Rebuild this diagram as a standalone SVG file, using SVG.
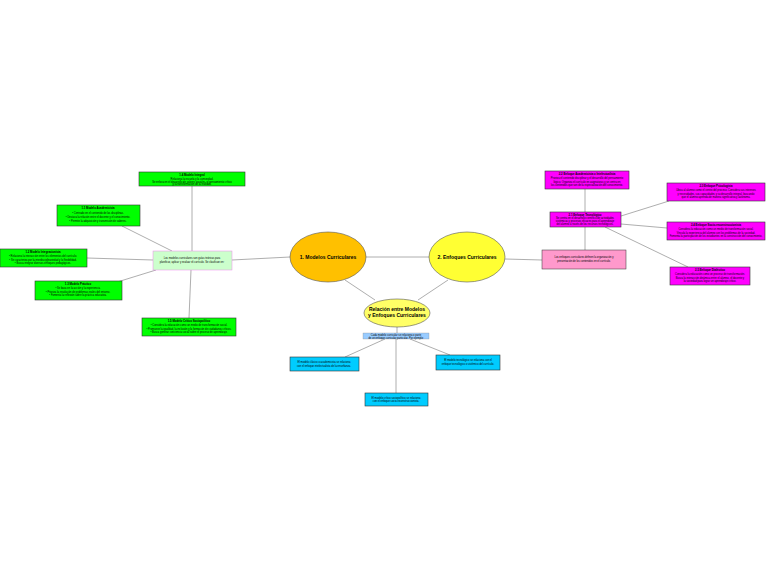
<svg xmlns="http://www.w3.org/2000/svg" width="768" height="577" viewBox="0 0 768 577">
<style>
text{font-family:"Liberation Sans",Arial,sans-serif;text-anchor:middle;fill:#000}
.t{font-size:2.6px}.h{font-size:2.8px;font-weight:bold}.m{font-size:5px;font-weight:bold}
.g{fill:#00ff00;stroke:#333;stroke-width:0.6}
.p{fill:#ff00ff;stroke:#333;stroke-width:0.6}
.c{fill:#00ccff;stroke:#333;stroke-width:0.6}
#conn line{stroke:#999;stroke-width:0.8}
</style>
<rect width="768" height="577" fill="#fff"/>
<g id="conn">
<line x1="290" y1="257" x2="232" y2="260"/>
<line x1="366" y1="257" x2="429" y2="257"/>
<line x1="505" y1="259" x2="542" y2="260"/>
<line x1="192" y1="186" x2="192" y2="251"/>
<line x1="122" y1="226" x2="172" y2="251"/>
<line x1="87" y1="258" x2="153" y2="260"/>
<line x1="114" y1="283" x2="156" y2="270"/>
<line x1="189" y1="318" x2="191" y2="270"/>
<line x1="585" y1="189" x2="585" y2="212"/>
<line x1="585" y1="227" x2="585" y2="250"/>
<line x1="621" y1="216" x2="669" y2="201"/>
<line x1="621" y1="224" x2="667" y2="228"/>
<line x1="605" y1="227" x2="688" y2="267"/>
<line x1="345" y1="280" x2="375" y2="300"/>
<line x1="448" y1="280" x2="418" y2="300"/>
<line x1="397" y1="327" x2="397" y2="333"/>
<line x1="385" y1="339" x2="345" y2="357"/>
<line x1="410" y1="339" x2="450" y2="355"/>
<line x1="396" y1="339" x2="396" y2="393"/>
</g>
<g id="modelos"><ellipse cx="328" cy="257" rx="38" ry="25" fill="#ffc000" stroke="#555" stroke-width="0.6"/><text class="m" x="328" y="259">1. Modelos Curriculares</text></g>
<g id="enfoques"><ellipse cx="467" cy="257" rx="38" ry="25" fill="#ffff33" stroke="#555" stroke-width="0.6"/><text class="m" x="467" y="259">2. Enfoques Curriculares</text></g>
<g id="relacion"><ellipse cx="397" cy="313" rx="33" ry="14" fill="#ffff66" stroke="#555" stroke-width="0.6"/><text class="m" x="397" y="311">Relación entre Modelos</text><text class="m" x="397" y="317">y Enfoques Curriculares</text></g>
<g id="defmod"><rect x="153" y="251" width="79" height="19" fill="#ccffcc" stroke="#ee88ee" stroke-width="0.5"/><text class="t" x="192" y="259">Los modelos curriculares son guías teóricas para</text><text class="t" x="192" y="263">planificar, aplicar y evaluar el currículo. Se clasifican en:</text></g>
<g id="m1"><rect class="g" x="139" y="172" width="106" height="14"/><text class="h" x="192" y="176">1.4 Modelo Integral</text><text class="t" x="192" y="179.5">Relaciona la escuela y la comunidad.</text><text class="t" x="192" y="182.5">Se enfoca en el desarrollo de valores sociales, el pensamiento crítico</text><text class="t" x="192" y="185">y la transformación de la realidad.</text></g>
<g id="m2"><rect class="g" x="57" y="205" width="83" height="21"/><text class="h" x="98" y="209">1.1 Modelo Academicista</text><text class="t" x="98" y="214">• Centrado en el contenido de las disciplinas.</text><text class="t" x="98" y="218">• Destaca la relación entre el docente y el conocimiento.</text><text class="t" x="98" y="222">• Permite la adquisición y transmisión de saberes.</text></g>
<g id="m3"><rect class="g" x="0" y="249" width="87" height="18"/><text class="h" x="43" y="253">1.2 Modelo Integracionista</text><text class="t" x="43" y="257">• Relaciona la interacción entre los elementos del currículo.</text><text class="t" x="43" y="260.5">• Se caracteriza por la interdisciplinariedad y la flexibilidad.</text><text class="t" x="43" y="264">• Busca integrar diversos enfoques pedagógicos.</text></g>
<g id="m4"><rect class="g" x="35" y="281" width="87" height="19"/><text class="h" x="78" y="285">1.3 Modelo Práctico</text><text class="t" x="78" y="289">• Se basa en la acción y la experiencia.</text><text class="t" x="78" y="292.5">• Prioriza la resolución de problemas reales del entorno.</text><text class="t" x="78" y="296">• Fomenta la reflexión sobre la práctica educativa.</text></g>
<g id="m5"><rect class="g" x="142" y="318" width="94" height="18"/><text class="h" x="189" y="322">1.5 Modelo Crítico Sociopolítico</text><text class="t" x="189" y="326">• Considera la educación como un medio de transformación social.</text><text class="t" x="189" y="329.5">• Promueve la igualdad, la inclusión y la formación de ciudadanos críticos.</text><text class="t" x="189" y="333">• Busca generar conciencia social sobre el proceso de aprendizaje.</text></g>
<g id="defenf"><rect x="542" y="250" width="84" height="19" fill="#ff99cc" stroke="#333" stroke-width="0.5"/><text class="t" x="584" y="258">Los enfoques curriculares definen la organización y</text><text class="t" x="584" y="262">presentación de los contenidos en el currículo.</text></g>
<g id="e1"><rect class="p" x="550" y="212" width="71" height="15"/><text class="h" x="585" y="215.5">2.1 Enfoque Tecnológico</text><text class="t" x="585" y="219">Se centra en el desarrollo científico de actividades</text><text class="t" x="585" y="222">sistémicas y procesos eficaces para el aprendizaje</text><text class="t" x="585" y="225">del alumno a través de los recursos tecnológicos.</text></g>
<g id="e2"><rect class="p" x="545" y="171" width="84" height="18"/><text class="h" x="587" y="175">2.2 Enfoque Academicista o Intelectualista</text><text class="t" x="587" y="179">Prioriza el contenido disciplinar y el desarrollo del pensamiento</text><text class="t" x="587" y="182.5">lógico. Organiza el currículo en asignaturas y se centra en</text><text class="t" x="587" y="186">los contenidos que son de la especialización del conocimiento.</text></g>
<g id="e3"><rect class="p" x="667" y="183" width="98" height="18"/><text class="h" x="716" y="187">2.3 Enfoque Psicologista</text><text class="t" x="716" y="191">Ubica al alumno como el centro del proceso. Considera sus intereses</text><text class="t" x="716" y="194.5">y necesidades, sus capacidades y su desarrollo integral, buscando</text><text class="t" x="716" y="198">que el alumno aprenda de manera significativa y autónoma.</text></g>
<g id="e4"><rect class="p" x="667" y="222" width="98" height="18"/><text class="h" x="716" y="226">2.4 Enfoque Socio-reconstruccionista</text><text class="t" x="716" y="230">Considera la educación como un medio de transformación social.</text><text class="t" x="716" y="233.5">Vincula la experiencia del alumno con los problemas de la sociedad.</text><text class="t" x="716" y="237">Fomenta la participación de los estudiantes en la construcción del conocimiento.</text></g>
<g id="e5"><rect class="p" x="670" y="267" width="80" height="18"/><text class="h" x="710" y="271">2.5 Enfoque Dialéctico</text><text class="t" x="710" y="275">Considera la educación como un proceso de transformación.</text><text class="t" x="710" y="278.5">Busca la interacción dinámica entre el alumno, el docente y</text><text class="t" x="710" y="282">la sociedad para lograr un aprendizaje crítico.</text></g>
<g id="strip"><rect x="363" y="333" width="66" height="6" fill="#99ccff" stroke="#888" stroke-width="0.3"/><text class="t" x="396" y="335.8">Cada modelo curricular se relaciona o parte</text><text class="t" x="396" y="338.5">de un enfoque curricular particular. Por ejemplo:</text></g>
<g id="c1"><rect class="c" x="290" y="357" width="69" height="14"/><text class="t" x="324" y="363">El modelo clásico o academicista se relaciona</text><text class="t" x="324" y="366.5">con el enfoque intelectualista de la enseñanza.</text></g>
<g id="c2"><rect class="c" x="436" y="355" width="64" height="15"/><text class="t" x="468" y="361">El modelo tecnológico se relaciona con el</text><text class="t" x="468" y="364.5">enfoque tecnológico o sistémico del currículo.</text></g>
<g id="c3"><rect class="c" x="365" y="393" width="63" height="13"/><text class="t" x="396" y="398.5">El modelo crítico sociopolítico se relaciona</text><text class="t" x="396" y="402">con el enfoque socio-reconstruccionista.</text></g>
</svg>
